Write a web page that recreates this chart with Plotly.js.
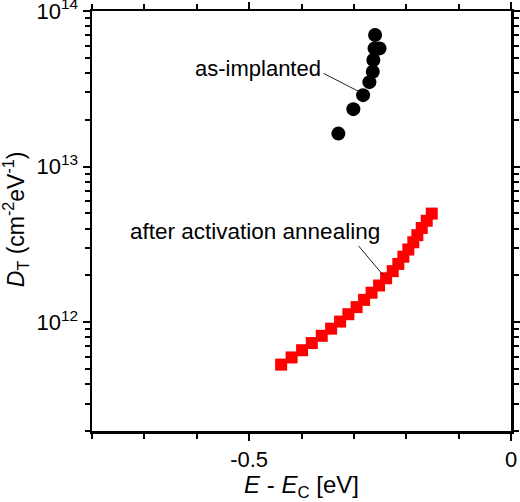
<!DOCTYPE html>
<html>
<head>
<meta charset="utf-8">
<script src="https://cdn.plot.ly/plotly-3.0.1.min.js"></script>
<style>
    body { margin: 0; background: #fff; }
    #plot { width: 520px; height: 502px; }
</style>
</head>
<body>
<div id="plot"></div>
<script>
// as-implanted, black circles
var implantedE = [-0.2595, -0.2605, -0.2510, -0.2628, -0.2639, -0.2704, -0.2824, -0.3010, -0.3296];
var implantedDT = [7.01e13, 5.75e13, 5.75e13, 4.84e13, 4.07e13, 3.49e13, 2.88e13, 2.34e13, 1.63e13];

// after activation annealing, red squares
var annealedE = [-0.4389, -0.4189, -0.3989, -0.3803, -0.3613, -0.3435, -0.3263, -0.3105,
    -0.2948, -0.2805, -0.2662, -0.2519, -0.2385, -0.2258, -0.2151, -0.2055,
    -0.1960, -0.1865, -0.1788, -0.1704, -0.1609, -0.1513];
var annealedDT = [5.34e11, 5.94e11, 6.61e11, 7.35e11, 8.18e11, 9.09e11, 1.01e12, 1.126e12,
    1.251e12, 1.392e12, 1.548e12, 1.722e12, 1.917e12, 2.13e12, 2.369e12, 2.636e12,
    2.933e12, 3.264e12, 3.626e12, 4.034e12, 4.488e12, 4.99e12];

var xTickVals = [-0.5, 0];
var xTickText = ['-0.5', '0'];
var yTickVals = [1e12, 1e13, 1e14];
var yTickText = ['10<sup>12</sup>', '10<sup>13</sup>', '10<sup>14</sup>'];

var font = 'Arial, "Liberation Sans", sans-serif';

// minor ticks 2..9 of every decade inside the range
var yMinor = [];
for (let d = 11; d < 14; d++) {
    for (let m = 2; m <= 9; m++) {
        yMinor.push(m * Math.pow(10, d));
    }
}

var traces = [
    {
        x: annealedE,
        y: annealedDT,
        type: 'scatter',
        mode: 'markers',
        marker: { symbol: 'square', size: 12, color: '#ff0000' },
        name: 'after activation annealing'
    },
    {
        x: implantedE,
        y: implantedDT,
        type: 'scatter',
        mode: 'markers',
        marker: { symbol: 'circle', size: 14, color: '#000000' },
        name: 'as-implanted'
    }
];

var axisCommon = {
    showline: true,
    linewidth: 2.5,
    linecolor: '#000',
    mirror: 'ticks',
    ticks: 'outside',
    ticklen: 7,
    tickwidth: 2,
    tickcolor: '#000',
    showgrid: false,
    zeroline: false,
    ticklabeloverflow: 'allow',
    tickfont: { family: font, size: 22, color: '#000' }
};

var layout = {
    width: 520,
    height: 502,
    margin: { l: 92, r: 9, t: 11, b: 71 },
    paper_bgcolor: '#fff',
    plot_bgcolor: '#fff',
    showlegend: false,
    font: { family: font, color: '#000' },
    xaxis: Object.assign({}, axisCommon, {
        range: [-0.8, 0],
        tickmode: 'array',
        tickvals: xTickVals,
        ticktext: xTickText,
        minor: { tickmode: 'linear', tick0: 0, dtick: 0.1, ticks: 'outside', ticklen: 5, tickwidth: 2, tickcolor: '#000' },
        title: {
            text: '<i>E</i> - <i>E</i><sub>C</sub> [eV]',
            font: { family: font, size: 24, color: '#000' },
            standoff: 8
        }
    }),
    yaxis: Object.assign({}, axisCommon, {
        type: 'log',
        range: [Math.log10(2e11), 14],
        tickmode: 'array',
        tickvals: yTickVals,
        ticktext: yTickText,
        minor: { tickmode: 'array', tickvals: yMinor, ticks: 'outside', ticklen: 5, tickwidth: 2, tickcolor: '#000' }
    }),
    annotations: [
        {
            // y axis title, placed by hand to sit near the left edge
            x: -0.183, y: 0.505, xref: 'paper', yref: 'paper',
            xanchor: 'center', yanchor: 'middle',
            text: '<i>D</i><sub>T</sub> (cm<sup>-2</sup>eV<sup>-1</sup>)',
            textangle: -90, showarrow: false,
            font: { family: font, size: 23, color: '#000' }
        },
        {
            x: -0.4828, y: 13.633, xref: 'x', yref: 'y',
            text: 'as-implanted', showarrow: false,
            font: { family: font, size: 22, color: '#000' }
        },
        {
            x: -0.2901, y: 13.4818, ax: -0.3607, ay: 13.6041,
            xref: 'x', yref: 'y', axref: 'x', ayref: 'y',
            text: '', showarrow: true, arrowhead: 0, arrowwidth: 1, arrowcolor: '#222'
        },
        {
            x: -0.4895, y: 12.5806, xref: 'x', yref: 'y',
            text: 'after activation annealing', showarrow: false,
            font: { family: font, size: 22.5, color: '#000' }
        },
        {
            x: -0.2437, y: 12.3006, ax: -0.2933, ay: 12.4998,
            xref: 'x', yref: 'y', axref: 'x', ayref: 'y',
            text: '', showarrow: true, arrowhead: 0, arrowwidth: 1, arrowcolor: '#222'
        }
    ]
};

Plotly.newPlot('plot', traces, layout, { displayModeBar: false, staticPlot: true });
</script>
</body>
</html>
